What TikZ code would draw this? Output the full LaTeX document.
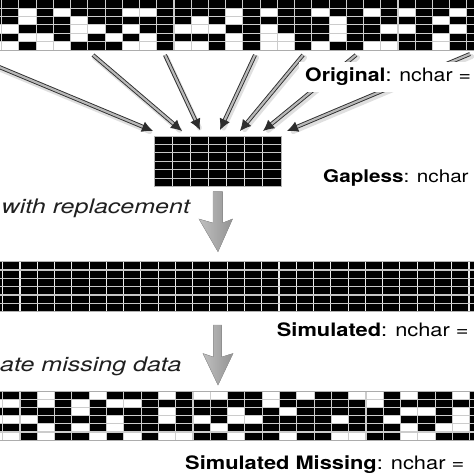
\documentclass[tikz,border=0pt]{standalone}
\usepackage{fontspec}
\setmainfont{TeX Gyre Heros}
\usetikzlibrary{arrows.meta}
\begin{document}
\begin{tikzpicture}[x=1pt,y=-1pt,
  cellgrid/.style={draw=gray!40, line width=1.1pt},
  matborder/.style={draw=gray!65, line width=1.2pt},
  thinarrow/.style={draw=gray!35!black, double=gray!55, double distance=2.2pt, line width=0.9pt, -{Latex[length=11pt,width=11pt]}},
  arrowshadow/.style={draw=gray!25, line width=5pt, line cap=round, shorten >=5pt},
  lab/.style={anchor=base west, inner sep=0pt, font=\fontsize{18.5}{20}\selectfont, xscale=1.18, transform shape},
  ital/.style={anchor=base west, inner sep=0pt, font=\fontsize{20}{22}\selectfont\itshape, text=gray!25!black, xscale=1.25, transform shape},
  bigarrow/.style={left color=gray!50, right color=gray!85, draw=gray!75, line width=0.4pt}
]
\useasboundingbox (0,0) rectangle (474,474);
\clip (0,0) rectangle (474,474);
\fill[white] (0,0) rectangle (474,474);

% ---------- top matrix (Original)
\foreach \row [count=\r from 0] in {
 {1,1,1,1,1,1,1,1,1,1,1,1,1,1,1,1,1,1,1,1,1,1,1,1,1,1,1,1,1},
 {1,1,0,1,0,1,1,1,0,0,1,1,1,1,0,1,0,1,1,0,1,1,0,1,0,1,1,0,1},
 {1,1,0,1,1,0,1,1,1,1,1,1,0,1,0,1,1,1,1,1,0,1,1,1,1,1,0,1,1},
 {0,0,1,1,1,0,0,1,0,1,1,0,0,0,1,1,0,1,1,1,0,1,1,0,0,1,1,0,1},
 {1,1,0,0,1,0,1,0,1,0,1,1,1,1,0,1,0,0,1,1,0,1,1,1,1,1,0,1,1},
 {0,0,1,0,0,1,1,1,0,0,1,0,0,1,0,1,0,0,1,0,1,1,0,0,1,1,0,1,1}}{
  \foreach \v [count=\k from 0] in \row {
    \ifnum\v=1 \fill[black] ({1.7+17.23*(\k-1)},{-0.3+8.38*\r}) rectangle +(17.23,8.38);\fi
  }
}
\foreach \k in {0,...,28} \draw[cellgrid] ({1.7+17.23*(\k-1)},-2) -- ++(0,52);
\foreach \r in {1,...,5} \draw[cellgrid] (-2,{-0.3+8.38*\r}) -- ++(480,0);
\draw[matborder] (-2,50.2) -- ++(480,0);

% ---------- gapless matrix
\node[fill=black, minimum width=127pt, minimum height=50.7pt, inner sep=0pt, outer sep=0pt] (gapless) at (217.5,161.35) {};
\foreach \k in {1,...,6} \draw[draw=gray!25, line width=1.1pt] ({154+18.14*\k},136) -- ++(0,50.7);
\foreach \r in {1,...,5} \draw[draw=gray!45, line width=1.1pt] (154,{136+8.45*\r}) -- ++(127,0);
\draw[draw=gray!60, line width=0.8pt] (gapless.north west) rectangle (gapless.south east);

% ---------- diagonal arrows
\coordinate (t1) at (-8,64);   \coordinate (h1) at (153,131);
\coordinate (t2) at (93,55);   \coordinate (h2) at (182,131);
\coordinate (t3) at (165,55);  \coordinate (h3) at (200,130);
\coordinate (t4) at (255,55);  \coordinate (h4) at (220,130);
\coordinate (t5) at (303,55);  \coordinate (h5) at (240,131);
\coordinate (t6) at (356,55);  \coordinate (h6) at (263,131);
\coordinate (t7) at (470,54);  \coordinate (h7) at (287,131);
\foreach \i in {1,...,7} {
  \draw[arrowshadow] ([shift={(1.5,2.5)}]t\i) -- ([shift={(1.5,2.5)}]h\i);
}
\foreach \i in {1,...,7} {
  \draw[thinarrow] (t\i) -- (h\i);
}

% ---------- labels
\node[anchor=base west, inner sep=0pt, font=\fontsize{18.5}{20}\selectfont, fill=white, inner sep=6pt] (orig) at (299,81.7) {\scalebox{1.15}[1]{\textbf{Original}: nchar =}};
\node[lab, font=\fontsize{17.5}{19}\selectfont] (gapl) at (323,182.3) {\textbf{Gapless}: nchar};
\node[ital] (wr) at (1.5,213.3) {with replacement};

% ---------- big arrow 1
\fill[bigarrow] (213,191.7) -- (222.5,191.7) -- (222.5,223) -- (232.5,219) -- (218,251.7) -- (199,219) -- (213,223) -- cycle;

% ---------- simulated matrix
\node[fill=black, minimum width=480pt, minimum height=50pt, inner sep=0pt, outer sep=0pt] (sim) at (237,286.7) {};
\foreach \k in {0,...,27} \draw[draw=gray!15, line width=1.1pt] ({2.7+17.27*\k},261.7) -- ++(0,50);
\foreach \r in {1,...,5} \draw[draw=gray!45, line width=1.1pt] (-2,{261.7+8.33*\r}) -- ++(480,0);
\draw[draw=gray!60, line width=0.8pt] (-2,261.7) -- ++(480,0) (-2,311.7) -- ++(480,0);

\node[lab] (simlab) at (276.7,336) {\textbf{Simulated}: nchar =};

% ---------- big arrow 2
\fill[bigarrow] (213.3,325) -- (221.7,325) -- (221.7,357) -- (233,353.5) -- (218,385) -- (203,353.5) -- (213.3,357) -- cycle;
\node[ital] (md) at (0,371.7) {ate missing data};

% ---------- bottom matrix (Simulated Missing)
\foreach \row [count=\r from 0] in {
 {1,1,1,0,1,1,0,1,1,1,0,1,0,0,1,1,0,1,0,1,1,0,0,1,0,1,1,0,1},
 {0,0,1,0,1,0,1,0,0,1,1,1,1,1,1,1,0,1,1,1,1,1,0,1,1,1,1,1,1},
 {1,1,1,1,1,0,1,1,1,1,0,1,1,1,0,1,1,0,1,1,1,1,1,1,0,0,1,0,1},
 {0,0,0,1,1,1,1,0,1,1,0,1,0,1,0,0,1,1,1,1,0,1,1,0,1,1,1,0,1},
 {1,1,1,0,1,0,1,0,1,1,1,1,1,0,1,1,1,1,1,1,1,1,1,1,0,1,0,0,1},
 {0,0,1,0,1,1,0,1,0,1,0,0,1,1,0,1,1,0,1,1,0,0,1,1,0,0,1,1,1}}{
  \foreach \v [count=\k from 0] in \row {
    \ifnum\v=1 \fill[black] ({2.7+17.3*(\k-1)},{391.5+8.1*\r}) rectangle +(17.3,8.1);\fi
  }
}
\foreach \k in {0,...,28} \draw[cellgrid] ({2.7+17.3*(\k-1)},391.5) -- ++(0,48.6);
\foreach \r in {1,...,5} \draw[cellgrid] (-2,{391.5+8.1*\r}) -- ++(480,0);
\draw[matborder] (-2,391.5) -- ++(480,0) (-2,440.1) -- ++(480,0);

\node[lab] (smlab) at (185,469.3) {\textbf{Simulated Missing}: nchar =};
\end{tikzpicture}
\end{document}
